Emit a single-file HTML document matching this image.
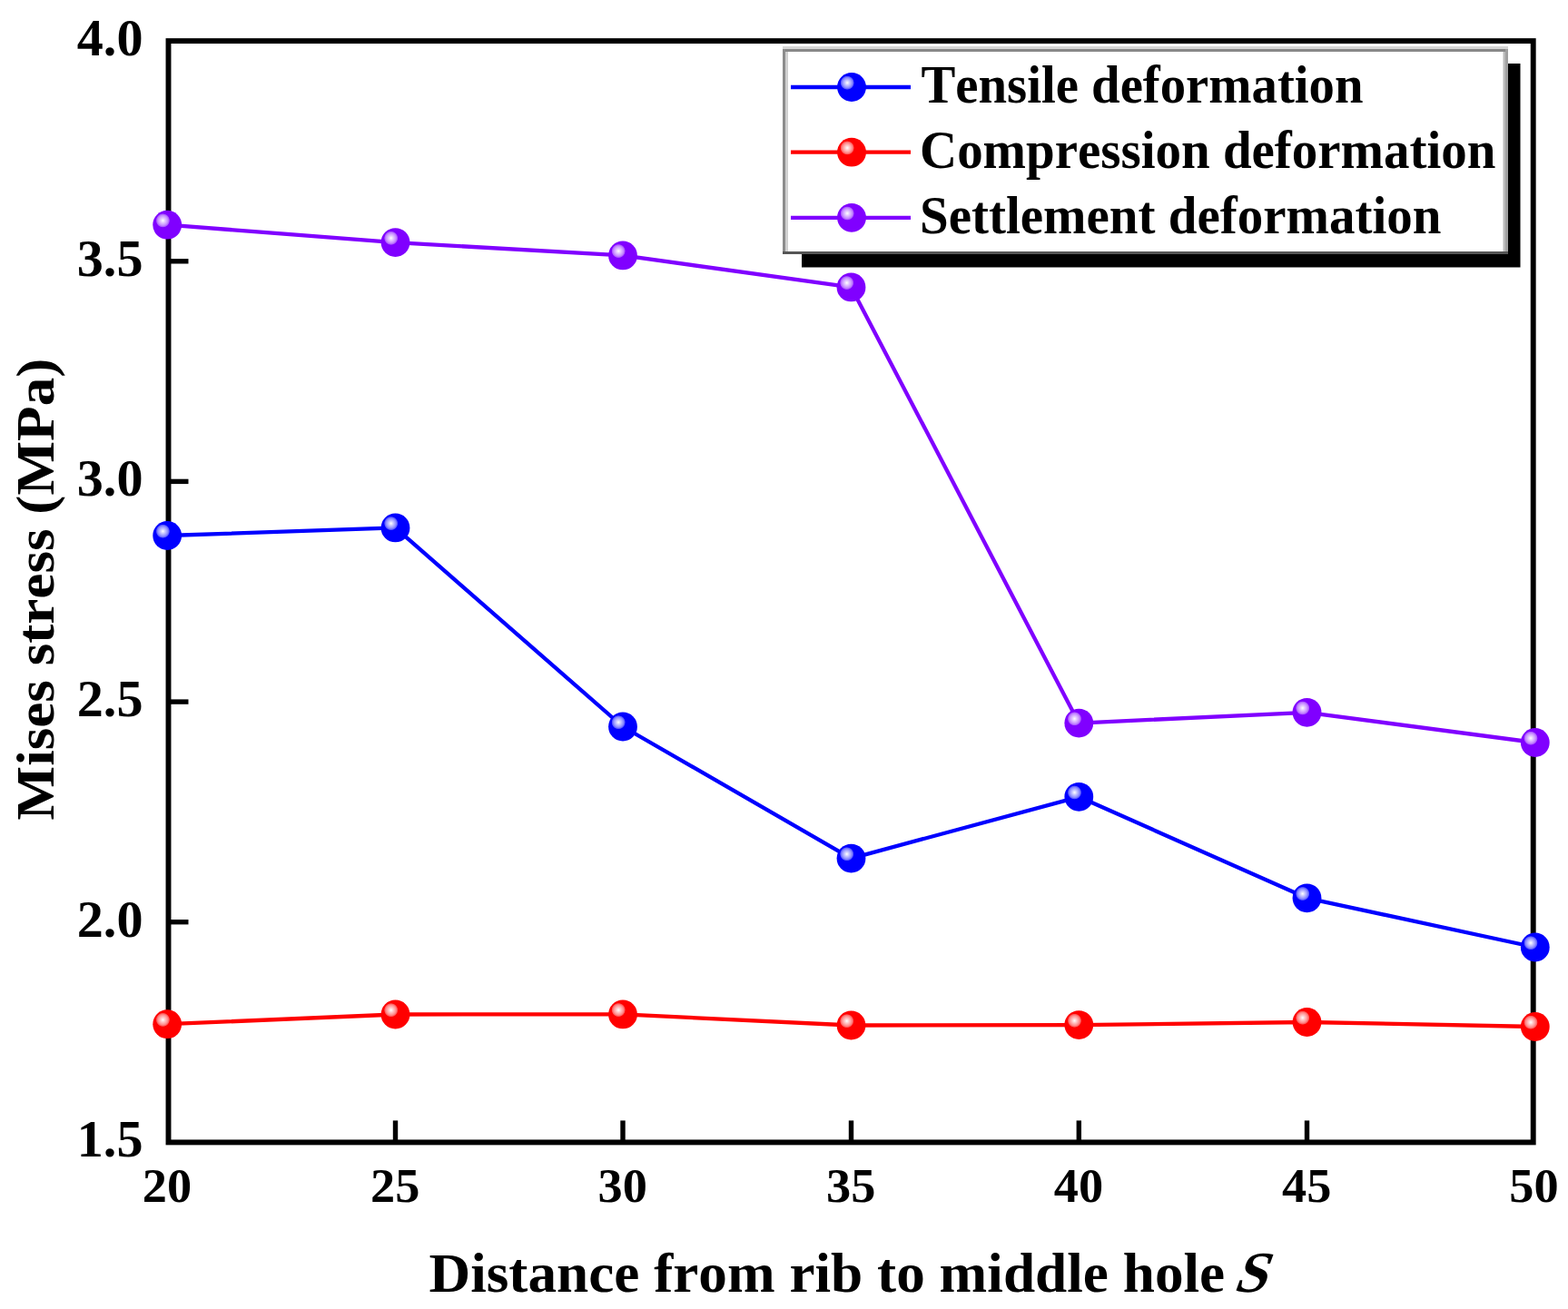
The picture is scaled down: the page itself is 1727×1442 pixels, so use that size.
<!DOCTYPE html>
<html><head><meta charset="utf-8"><title>Mises stress chart</title>
<style>html,body{margin:0;padding:0;background:#fff;overflow:hidden;width:1727px;height:1442px;}svg{display:block;}text{font-kerning:none;}</style>
</head><body>
<svg width="1727" height="1442" viewBox="0 0 1727 1442">
<defs>
<radialGradient id="hl" cx="0.5" cy="0.5" r="0.5">
<stop offset="0" stop-color="#fff" stop-opacity="1"/>
<stop offset="0.3" stop-color="#fff" stop-opacity="0.8"/>
<stop offset="0.7" stop-color="#fff" stop-opacity="0.55"/>
<stop offset="0.88" stop-color="#fff" stop-opacity="0.35"/>
<stop offset="1" stop-color="#fff" stop-opacity="0"/>
</radialGradient>
</defs>
<rect width="1727" height="1442" fill="#fff"/>
<rect x="185.5" y="45.1" width="1503.2" height="1213.3" fill="none" stroke="#000" stroke-width="5.9"/>
<line x1="185.5" y1="1015.7" x2="207.5" y2="1015.7" stroke="#000" stroke-width="5.4"/>
<line x1="185.5" y1="773.1" x2="207.5" y2="773.1" stroke="#000" stroke-width="5.4"/>
<line x1="185.5" y1="530.4" x2="207.5" y2="530.4" stroke="#000" stroke-width="5.4"/>
<line x1="185.5" y1="287.8" x2="207.5" y2="287.8" stroke="#000" stroke-width="5.4"/>
<line x1="435.5" y1="1258.4" x2="435.5" y2="1234.4" stroke="#000" stroke-width="5.4"/>
<line x1="686.0" y1="1258.4" x2="686.0" y2="1234.4" stroke="#000" stroke-width="5.4"/>
<line x1="937.5" y1="1258.4" x2="937.5" y2="1234.4" stroke="#000" stroke-width="5.4"/>
<line x1="1188.3" y1="1258.4" x2="1188.3" y2="1234.4" stroke="#000" stroke-width="5.4"/>
<line x1="1439.5" y1="1258.4" x2="1439.5" y2="1234.4" stroke="#000" stroke-width="5.4"/>
<polyline points="184.2,590.0 435.5,581.4 686.0,800.5 937.5,945.6 1188.3,877.8 1439.5,989.3 1690.8,1043.5" fill="none" stroke="#0000ff" stroke-width="4.3" stroke-linejoin="round"/>
<polyline points="184.2,1128.2 435.5,1117.5 686.0,1117.4 937.5,1129.5 1188.3,1129.1 1439.5,1126.0 1690.8,1131.0" fill="none" stroke="#ff0000" stroke-width="4.3" stroke-linejoin="round"/>
<polyline points="184.2,247.7 435.5,267.1 686.0,281.4 937.5,316.4 1188.3,796.6 1439.5,784.8 1690.8,818.0" fill="none" stroke="#8000ff" stroke-width="4.3" stroke-linejoin="round"/>
<circle cx="184.2" cy="590.0" r="15.9" fill="#0000ff"/><circle cx="179.4" cy="585.2" r="7.8" fill="url(#hl)"/>
<circle cx="435.5" cy="581.4" r="15.9" fill="#0000ff"/><circle cx="430.7" cy="576.6" r="7.8" fill="url(#hl)"/>
<circle cx="686.0" cy="800.5" r="15.9" fill="#0000ff"/><circle cx="681.2" cy="795.7" r="7.8" fill="url(#hl)"/>
<circle cx="937.5" cy="945.6" r="15.9" fill="#0000ff"/><circle cx="932.7" cy="940.8" r="7.8" fill="url(#hl)"/>
<circle cx="1188.3" cy="877.8" r="15.9" fill="#0000ff"/><circle cx="1183.5" cy="873.0" r="7.8" fill="url(#hl)"/>
<circle cx="1439.5" cy="989.3" r="15.9" fill="#0000ff"/><circle cx="1434.7" cy="984.5" r="7.8" fill="url(#hl)"/>
<circle cx="1690.8" cy="1043.5" r="15.9" fill="#0000ff"/><circle cx="1686.0" cy="1038.7" r="7.8" fill="url(#hl)"/>
<circle cx="184.2" cy="1128.2" r="15.9" fill="#ff0000"/><circle cx="179.4" cy="1123.4" r="7.8" fill="url(#hl)"/>
<circle cx="435.5" cy="1117.5" r="15.9" fill="#ff0000"/><circle cx="430.7" cy="1112.7" r="7.8" fill="url(#hl)"/>
<circle cx="686.0" cy="1117.4" r="15.9" fill="#ff0000"/><circle cx="681.2" cy="1112.6" r="7.8" fill="url(#hl)"/>
<circle cx="937.5" cy="1129.5" r="15.9" fill="#ff0000"/><circle cx="932.7" cy="1124.7" r="7.8" fill="url(#hl)"/>
<circle cx="1188.3" cy="1129.1" r="15.9" fill="#ff0000"/><circle cx="1183.5" cy="1124.3" r="7.8" fill="url(#hl)"/>
<circle cx="1439.5" cy="1126.0" r="15.9" fill="#ff0000"/><circle cx="1434.7" cy="1121.2" r="7.8" fill="url(#hl)"/>
<circle cx="1690.8" cy="1131.0" r="15.9" fill="#ff0000"/><circle cx="1686.0" cy="1126.2" r="7.8" fill="url(#hl)"/>
<circle cx="184.2" cy="247.7" r="15.9" fill="#8000ff"/><circle cx="179.4" cy="242.9" r="7.8" fill="url(#hl)"/>
<circle cx="435.5" cy="267.1" r="15.9" fill="#8000ff"/><circle cx="430.7" cy="262.3" r="7.8" fill="url(#hl)"/>
<circle cx="686.0" cy="281.4" r="15.9" fill="#8000ff"/><circle cx="681.2" cy="276.6" r="7.8" fill="url(#hl)"/>
<circle cx="937.5" cy="316.4" r="15.9" fill="#8000ff"/><circle cx="932.7" cy="311.6" r="7.8" fill="url(#hl)"/>
<circle cx="1188.3" cy="796.6" r="15.9" fill="#8000ff"/><circle cx="1183.5" cy="791.8" r="7.8" fill="url(#hl)"/>
<circle cx="1439.5" cy="784.8" r="15.9" fill="#8000ff"/><circle cx="1434.7" cy="780.0" r="7.8" fill="url(#hl)"/>
<circle cx="1690.8" cy="818.0" r="15.9" fill="#8000ff"/><circle cx="1686.0" cy="813.2" r="7.8" fill="url(#hl)"/>
<rect x="883" y="70" width="791.5" height="224.5" fill="#000"/>
<rect x="862" y="51" width="799" height="229" fill="#fff"/>
<rect x="862" y="51" width="799" height="3" fill="#d6d6d6"/>
<rect x="862" y="54" width="799" height="3" fill="#888"/>
<rect x="862" y="54" width="3" height="226" fill="#8c8c8c"/>
<rect x="865" y="57" width="3" height="220" fill="#d0d0d0"/>
<rect x="1655.5" y="57" width="2.5" height="220" fill="#bbb"/>
<rect x="1658" y="54" width="3" height="226" fill="#a0a0a0"/>
<rect x="862" y="277" width="799" height="3" fill="#555"/>
<line x1="871" y1="96.0" x2="1003" y2="96.0" stroke="#0000ff" stroke-width="4.3"/>
<circle cx="938.0" cy="96.0" r="15.9" fill="#0000ff"/><circle cx="933.2" cy="91.2" r="7.8" fill="url(#hl)"/>
<line x1="871" y1="167.7" x2="1003" y2="167.7" stroke="#ff0000" stroke-width="4.3"/>
<circle cx="938.0" cy="167.7" r="15.9" fill="#ff0000"/><circle cx="933.2" cy="162.9" r="7.8" fill="url(#hl)"/>
<line x1="871" y1="239.8" x2="1003" y2="239.8" stroke="#8000ff" stroke-width="4.3"/>
<circle cx="938.0" cy="239.8" r="15.9" fill="#8000ff"/><circle cx="933.2" cy="235.0" r="7.8" fill="url(#hl)"/>
<text transform="translate(1014.50,112.60) scale(0.9620,1.0000)" font-size="59" text-anchor="start" font-family="'Liberation Serif', serif" font-weight="bold">Tensile deformation</text>
<text transform="translate(1013.00,185.40) scale(0.9657,1.0000)" font-size="59" text-anchor="start" font-family="'Liberation Serif', serif" font-weight="bold">Compression deformation</text>
<text transform="translate(1013.00,257.00) scale(0.9660,1.0000)" font-size="59" text-anchor="start" font-family="'Liberation Serif', serif" font-weight="bold">Settlement deformation</text>
<text transform="translate(157.50,1274.20) scale(1.0300,1.0000)" font-size="56.5" text-anchor="end" font-family="'Liberation Serif', serif" font-weight="bold">1.5</text>
<text transform="translate(157.50,1031.54) scale(1.0300,1.0000)" font-size="56.5" text-anchor="end" font-family="'Liberation Serif', serif" font-weight="bold">2.0</text>
<text transform="translate(157.50,788.88) scale(1.0300,1.0000)" font-size="56.5" text-anchor="end" font-family="'Liberation Serif', serif" font-weight="bold">2.5</text>
<text transform="translate(157.50,546.22) scale(1.0300,1.0000)" font-size="56.5" text-anchor="end" font-family="'Liberation Serif', serif" font-weight="bold">3.0</text>
<text transform="translate(157.50,303.56) scale(1.0300,1.0000)" font-size="56.5" text-anchor="end" font-family="'Liberation Serif', serif" font-weight="bold">3.5</text>
<text transform="translate(157.50,60.90) scale(1.0300,1.0000)" font-size="56.5" text-anchor="end" font-family="'Liberation Serif', serif" font-weight="bold">4.0</text>
<text transform="translate(183.90,1323.60) scale(1.0450,1.0000)" font-size="52" text-anchor="middle" font-family="'Liberation Serif', serif" font-weight="bold">20</text>
<text transform="translate(435.20,1323.60) scale(1.0450,1.0000)" font-size="52" text-anchor="middle" font-family="'Liberation Serif', serif" font-weight="bold">25</text>
<text transform="translate(685.70,1323.60) scale(1.0450,1.0000)" font-size="52" text-anchor="middle" font-family="'Liberation Serif', serif" font-weight="bold">30</text>
<text transform="translate(937.20,1323.60) scale(1.0450,1.0000)" font-size="52" text-anchor="middle" font-family="'Liberation Serif', serif" font-weight="bold">35</text>
<text transform="translate(1188.00,1323.60) scale(1.0450,1.0000)" font-size="52" text-anchor="middle" font-family="'Liberation Serif', serif" font-weight="bold">40</text>
<text transform="translate(1439.20,1323.60) scale(1.0450,1.0000)" font-size="52" text-anchor="middle" font-family="'Liberation Serif', serif" font-weight="bold">45</text>
<text transform="translate(1689.50,1323.60) scale(1.0450,1.0000)" font-size="52" text-anchor="middle" font-family="'Liberation Serif', serif" font-weight="bold">50</text>
<text transform="translate(472.50,1423.20) scale(1.0204,1.0000)" font-size="62" text-anchor="start" font-family="'Liberation Serif', serif" font-weight="bold">Distance from rib to middle hole</text>
<text transform="translate(1357.5,1423.2) skewX(-20)" font-size="64" font-family="'Liberation Serif', serif" font-weight="bold">S</text>
<text transform="translate(59.00,903.50) rotate(-90) scale(1.0530,1.0000)" font-size="60" text-anchor="start" font-family="'Liberation Serif', serif" font-weight="bold">Mises stress (MPa)</text>
</svg>
</body></html>
